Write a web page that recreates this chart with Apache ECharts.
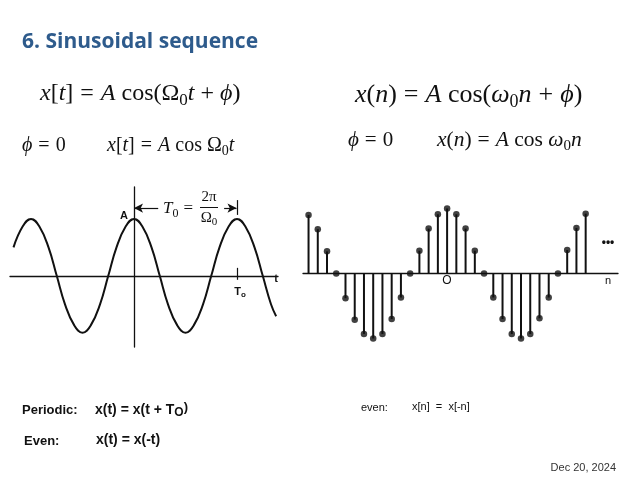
<!DOCTYPE html>
<html><head><meta charset="utf-8">
<script src="https://cdn.jsdelivr.net/npm/echarts@6/dist/echarts.min.js"></script>
<style>html,body{margin:0;padding:0;background:#fff}#c{width:638px;height:478px}</style>
</head><body><div id="c"></div>
<script>
// ---- data ----
// continuous signal x(t): t in units of T0, value in units of A
const tCont = [-1.17,-1.08,-1.00,-0.92,-0.83,-0.75,-0.67,-0.58,-0.50,-0.42,-0.33,-0.25,-0.17,-0.08,0.00,0.08,0.17,0.25,0.33,0.42,0.50,0.58,0.67,0.75,0.83,0.92,1.00,1.08,1.17,1.25,1.33,1.38];
const xCont = [0.50,0.87,1.00,0.87,0.50,0.00,-0.50,-0.87,-1.00,-0.87,-0.50,0.00,0.50,0.87,1.00,0.87,0.50,0.00,-0.50,-0.87,-1.00,-0.87,-0.50,0.00,0.50,0.87,1.00,0.87,0.50,0.00,-0.50,-0.71];
// discrete sequence x(n)
const nDisc = [-15,-14,-13,-12,-11,-10,-9,-8,-7,-6,-5,-4,-3,-2,-1,0,1,2,3,4,5,6,7,8,9,10,11,12,13,14,15];
const xDisc = [0.90,0.68,0.34,0.00,-0.38,-0.71,-0.93,-1.00,-0.93,-0.70,-0.37,0.00,0.35,0.69,0.91,1.00,0.91,0.69,0.35,0.00,-0.37,-0.70,-0.93,-1.00,-0.93,-0.69,-0.37,0.00,0.36,0.70,0.92];
const titleText = '6. Sinusoidal sequence';
const dateText = 'Dec 20, 2024';

// ---- build ----
const INK = '#111';
const MATH = 'Liberation Serif';
const SANS = 'Liberation Sans';
function R(sz){
  const L = Math.round(sz*1.25), s = Math.round(sz*0.7);
  return {
    i:{fontFamily:MATH,fontStyle:'italic',fontSize:sz,lineHeight:L,fill:INK},
    r:{fontFamily:MATH,fontSize:sz,lineHeight:L,fill:INK},
    e:{fontFamily:MATH,fontSize:sz,lineHeight:L,fill:INK,padding:[0,Math.round(sz*0.28)]},
    p:{fontFamily:MATH,fontSize:sz,lineHeight:L,fill:INK,padding:[0,Math.round(sz*0.26)]},
    s:{fontFamily:MATH,fontSize:s,lineHeight:Math.round(sz*0.72),verticalAlign:'bottom',fill:INK}
  };
}
function T(text, x, y, rich, extra){
  return {type:'text', x:x, y:y, silent:true,
    style:Object.assign({text:text, rich:rich, fill:INK, verticalAlign:'middle', align:'left'}, extra||{})};
}
const f1 = '{i|x}{r|[}{i|t}{r|]}{e|=}{i|A}{r| cos(Ω}{s|0}{i|t}{p|+}{i|ϕ}{r|)}';
const f2 = '{i|ϕ}{e|=}{r|0}';
const f3 = '{i|x}{r|[}{i|t}{r|]}{e|=}{i|A}{r| cos Ω}{s|0}{i|t}';
const f4 = '{i|x}{r|(}{i|n}{r|)}{e|=}{i|A}{r| cos(}{i|ω}{s|0}{i|n}{p|+}{i|ϕ}{r|)}';
const f5 = '{i|x}{r|(}{i|n}{r|)}{e|=}{i|A}{r| cos }{i|ω}{s|0}{i|n}';

const sansRich = {
  a:{fontFamily:SANS,fontWeight:'bold',fontSize:14,lineHeight:18,fill:INK},
  b:{fontFamily:SANS,fontWeight:'bold',fontSize:12,lineHeight:10,verticalAlign:'bottom',fill:INK},
  c:{fontFamily:SANS,fontWeight:'bold',fontSize:13,lineHeight:14,verticalAlign:'top',fill:INK}
};
const smallRich = {a:{fontFamily:SANS,fontSize:11,lineHeight:14,fill:INK}};

const graphic = [
  {type:'text', x:22, y:42, silent:true, style:{text:titleText, fill:'#2E5B8C', font:'bold 21px "Open Sans", Lato, sans-serif', verticalAlign:'middle'}},
  T(f1, 40, 94, R(24)),
  T(f2, 22, 146, R(20)),
  T(f3, 107, 146, R(20)),
  T(f4, 355, 95, R(26)),
  T(f2, 348, 140, R(21)),
  T(f5, 437, 140, R(21.5)),
  // left chart labels
  {type:'text', x:124, y:216, silent:true, style:{text:'A', font:'bold 11px '+SANS, fill:INK, verticalAlign:'middle', align:'center'}},
  {type:'text', x:276, y:279, silent:true, style:{text:'t', font:'bold 11px '+SANS, fill:INK, verticalAlign:'middle', align:'center'}},
  {type:'text', x:240, y:292, silent:true, style:{text:'{a|T}{b|o}', rich:{a:{fontFamily:SANS,fontWeight:'bold',fontSize:11,lineHeight:13,fill:INK},b:{fontFamily:SANS,fontWeight:'bold',fontSize:8,lineHeight:8,verticalAlign:'bottom',fill:INK}}, verticalAlign:'middle', align:'center'}},
  T('{i|T}{s|0}{e|=}', 163, 209, R(17)),
  T('{r|2π}', 209, 197, R(15), {align:'center'}),
  {type:'line', silent:true, shape:{x1:200,y1:207.5,x2:218,y2:207.5}, style:{stroke:INK, lineWidth:1}},
  T('{r|Ω}{s|0}', 209, 218, R(15), {align:'center'}),
  // right chart labels
  {type:'text', x:447, y:281, silent:true, style:{text:'O', font:'12px '+SANS, fill:INK, verticalAlign:'middle', align:'center'}},
  {type:'text', x:608, y:281, silent:true, style:{text:'n', font:'11px '+SANS, fill:INK, verticalAlign:'middle', align:'center'}},
  {type:'text', x:608, y:243, silent:true, style:{text:'•••', font:'bold 12px '+SANS, fill:INK, verticalAlign:'middle', align:'center'}},
  // bottom
  {type:'text', x:22, y:410, silent:true, style:{text:'Periodic:', font:'bold 13px '+SANS, fill:INK, verticalAlign:'middle'}},
  T('{a|x(t) = x(t + T}{b|O}{c|)}', 95, 410, sansRich),
  {type:'text', x:24, y:441, silent:true, style:{text:'Even:', font:'bold 13px '+SANS, fill:INK, verticalAlign:'middle'}},
  T('{a|x(t) = x(-t)}', 96, 440, sansRich),
  {type:'text', x:361, y:408, silent:true, style:{text:'even:', font:'11px '+SANS, fill:INK, verticalAlign:'middle'}},
  T('{a|x[n]  =  x[-n]}', 412, 407, smallRich),
  {type:'text', x:616, y:468, silent:true, style:{text:dateText, font:'11px '+SANS, fill:'#333', verticalAlign:'middle', align:'right'}}
];

const axisCommon = {axisTick:{show:false}, axisLabel:{show:false}, splitLine:{show:false}};
const lineStyleAxis = {color:INK, width:1.3};

const option = {
  animation:false,
  backgroundColor:'#fff',
  grid:[
    {left:10, top:187, width:268, height:160},
    {left:303, top:200, width:315, height:145}
  ],
  xAxis:[
    Object.assign({type:'value', gridIndex:0, min:-1.204, max:1.398, axisLine:{show:true, onZero:true, lineStyle:lineStyleAxis}}, axisCommon),
    Object.assign({type:'value', gridIndex:1, min:-15.6, max:18.5, axisLine:{show:true, onZero:true, lineStyle:lineStyleAxis}}, axisCommon)
  ],
  yAxis:[
    Object.assign({type:'value', gridIndex:0, min:-1.25, max:1.56, axisLine:{show:true, onZero:true, lineStyle:lineStyleAxis}}, axisCommon),
    Object.assign({type:'value', gridIndex:1, min:-1.10, max:1.13, axisLine:{show:false}}, axisCommon)
  ],
  series:[
    {
      type:'line', xAxisIndex:0, yAxisIndex:0, silent:true,
      data:tCont.map((t,i)=>[t, xCont[i]]),
      smooth:0.45, showSymbol:false,
      lineStyle:{color:INK, width:2},
      markLine:{
        silent:true, animation:false, label:{show:false},
        lineStyle:{color:INK, width:1.2, type:'solid'},
        symbolSize:[7,9],
        data:[
          [{coord:[0,1.19], symbol:'arrow'},{coord:[0.235,1.19], symbol:'none'}],
          [{coord:[0.875,1.19], symbol:'none'},{coord:[0.995,1.19], symbol:'arrow'}],
          [{coord:[1,1.33], symbol:'none'},{coord:[1,1.07], symbol:'none'}],
          [{coord:[1,0.14], symbol:'none'},{coord:[1,-0.07], symbol:'none'}]
        ]
      }
    },
    {
      type:'bar', xAxisIndex:1, yAxisIndex:1, silent:true,
      data:nDisc.map((n,i)=>[n, xDisc[i]]),
      barWidth:2, itemStyle:{color:INK}
    },
    {
      type:'scatter', xAxisIndex:1, yAxisIndex:1, silent:true, z:5,
      data:nDisc.map((n,i)=>[n, xDisc[i]]),
      symbol:'circle', symbolSize:6.5, itemStyle:{color:INK}
    }
  ],
  graphic:graphic
};
const chart = echarts.init(document.getElementById('c'));
chart.setOption(option);
</script>
</body></html>
